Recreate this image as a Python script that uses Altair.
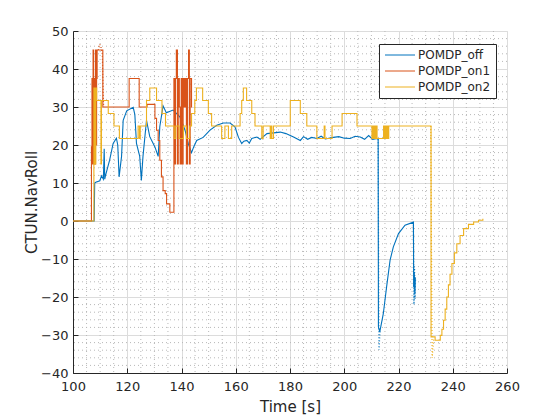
import altair as alt
import pandas as pd

# ---------------- data ----------------
series_names = ["POMDP_off", "POMDP_on1", "POMDP_on2"]
series_colors = ["#0072BD", "#D95319", "#EDB120"]

t_off = [100, 107.8, 108.0, 108.4, 109.9, 110.5, 111.2, 111.5, 111.7, 112.0, 113.5, 114.8,
         116.0, 116.5, 117.0, 117.9, 118.5, 119.8, 122.2, 122.8, 123.4, 124.6, 125.2, 125.8,
         127.1, 128.3, 130.2, 131.4, 132.0, 133.2, 134.4, 136.9, 139.4, 141.3, 142.5, 143.7,
         144.5, 145.6, 148.0, 150.5, 153.0, 155.4, 157.9, 159.7, 161.0, 162.2, 163.0, 164.1,
         165.0, 165.9, 167.8, 169.0, 171.5, 174.0, 176.4, 178.5, 181.3, 183.8, 185.0, 186.5,
         188.0, 189.9, 191.5, 193.0, 196.0, 198.0, 200.0, 202.2, 204.0, 205.9, 207.5, 209.0,
         210.5, 212.1, 212.5, 212.6, 213.1, 214.4, 215.6, 216.9, 218.1, 220.0, 222.4, 225.5,
         225.6, 225.8, 226.0, 226.2]
v_off = [0, 0, 10, 10.2, 10.6, 11.9, 11, 19, 11, 12, 16, 20.4,
         21.8, 20, 11.6, 17, 26.5, 29, 29.9, 28, 20.4, 17, 10.7, 17,
         26.5, 22.2, 19.5, 17, 24.8, 30.3, 28.5, 29.2, 27.4, 23.9, 20.4, 18.0,
         19.5, 21.2, 22, 23.9, 25.2, 25.8, 25.8, 24.8, 22, 20.4, 21, 21.2,
         20.5, 21.7, 22.1, 21.5, 23, 23.2, 23.4, 23, 22.1, 21.2, 22.2, 21.5,
         22, 21.7, 22.3, 21.6, 22, 22.2, 21.8, 21.7, 22.3, 22.1, 21.5, 22.5,
         21.5, 21.7, 21.5, -27.9, -29.2, -24.4, -17.4, -10.3, -6.8, -3.3, -1.1, -0.3,
         -17.4, -13.5, -19, -14.8]

t_on1 = [100, 106.8, 107.0, 107.2, 107.4, 107.6, 107.9, 108.1, 108.3, 108.5, 108.7, 108.9,
         111.0, 120.7, 124.4, 127.3, 130.2, 130.8, 131.4, 132.0, 132.6, 133.2, 134.0, 134.5,
         135.7, 136.9, 137.2, 137.5, 137.8, 138.1, 138.5, 138.8, 139.2, 139.5, 139.9, 140.3,
         140.6, 141.0, 141.4, 141.8, 142.2, 142.6, 142.9, 143.2, 143.7, 143.9]
v_on1 = [0, 19.5, 37.5, 15, 45, 15, 37.5, 15, 45, 20, 37.5, 45,
         30, 37.5, 30, 30.7, 27, 23.9, 21.2, 16, 11.6, 8, 7.2, 4.5,
         2.3, 2.3, 37.5, 15, 37.5, 45, 15, 37.5, 30, 15, 37.5, 15,
         37.5, 30, 37.5, 15, 37.5, 45, 15, 37.5, 30, 30]

t_on2 = [100, 107.7, 108.1, 108.4, 108.7, 110.3, 110.5, 113.0, 115.1, 117.1, 124.0, 124.5,
         124.8, 127.1, 128.3, 130.8, 132.8, 134.1, 137.3, 137.9, 139.1, 140.7, 141.8, 143.0,
         143.7, 144.9, 145.5, 147.8, 149.9, 151.1, 154.8, 156.0, 157.3, 158.5, 161.6, 162.2,
         162.8, 164.0, 165.9, 167.1, 169.6, 170.1, 172.7, 173.0, 173.3, 173.9, 180.1, 183.8,
         186.2, 189.9, 192.6, 192.9, 195.5, 199.2, 204.7, 210.2, 210.5, 210.8, 211.1, 211.4,
         211.7, 212.1, 214.5, 214.8, 215.1, 215.4, 215.7, 216.0, 216.4, 232.0, 233.5, 235.4,
         236.0, 236.6, 237.2, 237.8, 238.4, 239.0, 239.7, 240.6, 241.5, 242.7, 244.0, 245.8,
         247.7, 249.5, 251.1]
v_on2 = [0, 35, 15, 35, 31.7, 15, 31.7, 28.3, 25, 21.7, 25, 21.7,
         25, 31.7, 35, 31.7, 28.3, 25, 21.7, 25, 21.7, 25, 21.7, 25,
         28.3, 31.7, 35, 31.7, 28.3, 25, 21.7, 25, 21.7, 25, 28.3, 31.7,
         35, 31.7, 28.3, 25, 21.7, 25, 21.7, 25, 21.7, 25, 31.7, 28.3,
         25, 21.7, 25, 21.7, 25, 28.3, 25, 21.7, 25, 21.7, 25, 21.7,
         25, 21.7, 25, 21.7, 25, 21.7, 25, 21.7, 25, -30.5, -31.4, -30.1,
         -28.5, -26.1, -23.2, -20, -16.8, -14, -11.2, -8.4, -6, -3.8, -2, -0.9,
         -0.25, 0.2, 0.6]

# dotted companion traces (visible excursions only)
dot_off_t = [212.5, 212.8, 213.2, 225.5, 225.7, 225.9, 226.1, 226.3]
dot_off_v = [21.5, -33.9, -29, -0.3, -22, -12, -20.5, -15]
dot_off_seg = [0, 0, 0, 1, 1, 1, 1, 1]
dot_on1_t = [109.3, 109.8, 110.3, 110.8, 111.3]
dot_on1_v = [45, 46.5, 46, 44, 30]
dot_on2_t = [231.9, 232.4, 233.0]
dot_on2_v = [25, -36, -31]

x_major = [100, 120, 140, 160, 180, 200, 220, 240, 260]
y_major = [-40, -30, -20, -10, 0, 10, 20, 30, 40, 50]
x_minor = [x for x in range(100, 261, 5) if x % 20 != 0]
y_minor = [y for y in range(-40, 51, 2) if y % 10 != 0]

# ---------------- chart ----------------
W, H = 434, 342
FONT = "DejaVu Sans"
INK = "#262626"

xs = alt.Scale(domain=[100, 260], nice=False, zero=False)
ys = alt.Scale(domain=[-40, 50], nice=False, zero=False)
cs = alt.Scale(domain=series_names, range=series_colors)

def frame(t, v, name):
    return pd.DataFrame({"t": t, "v": v, "series": name, "i": list(range(len(t)))})

df_off = frame(t_off, v_off, series_names[0])
df_on1 = frame(t_on1, v_on1, series_names[1])
df_on2 = frame(t_on2, v_on2, series_names[2])

legend = alt.Legend(
    title=None, orient="none", legendX=306, legendY=13,
    strokeColor=INK, fillColor="white", padding=5, cornerRadius=0,
    labelFont=FONT, labelFontSize=12, labelColor=INK,
    symbolType="M-3,0H3", symbolSize=100, symbolStrokeWidth=1,
    symbolOffset=10, labelOffset=12, rowPadding=4,
)

main_x = alt.Axis(values=x_major, grid=True, gridColor="#dcdcdc", ticks=False,
                  domainColor=INK, labelColor=INK, labelFont=FONT, labelFontSize=13,
                  labelPadding=7, labelFlush=False, labelOverlap=False,
                  title="Time [s]", titleFont=FONT, titleFontSize=15,
                  titleFontWeight="normal", titleColor=INK, titlePadding=6, orient="bottom")
main_y = alt.Axis(values=y_major, grid=True, gridColor="#dcdcdc", ticks=False,
                  domainColor=INK, labelColor=INK, labelFont=FONT, labelFontSize=13,
                  labelPadding=5, labelFlush=False, labelOverlap=False,
                  title="CTUN.NavRoll", titleFont=FONT, titleFontSize=15,
                  titleFontWeight="normal", titleColor=INK, titlePadding=1, orient="left")

vgrid = alt.Chart(pd.DataFrame({"x": x_minor})).mark_rule(
    color="#b8b8b8", strokeDash=[1, 3], strokeWidth=1
).encode(
    x=alt.X("x:Q", scale=xs, axis=alt.Axis(orient="top", offset=-H, values=x_major,
            labels=False, domain=False, grid=False, ticks=True, tickSize=5,
            tickColor=INK, title=None))
)
hgrid = alt.Chart(pd.DataFrame({"y": y_minor})).mark_rule(
    color="#b8b8b8", strokeDash=[1, 3], strokeWidth=1
).encode(
    y=alt.Y("y:Q", scale=ys, axis=alt.Axis(orient="right", offset=-W, values=y_major,
            labels=False, domain=False, grid=False, ticks=True, tickSize=5,
            tickColor=INK, title=None))
)

def dotted(t, v, seg, color):
    d = pd.DataFrame({"t": t, "v": v, "seg": seg, "i": list(range(len(t)))})
    return alt.Chart(d).mark_line(strokeDash=[1, 2], strokeWidth=1.2, color=color, clip=True).encode(
        x=alt.X("t:Q", scale=xs, axis=None),
        y=alt.Y("v:Q", scale=ys, axis=None),
        detail="seg:N", order="i:Q")

d_off = dotted(dot_off_t, dot_off_v, dot_off_seg, series_colors[0])
d_on1 = dotted(dot_on1_t, dot_on1_v, [0] * len(dot_on1_t), series_colors[1])
d_on2 = dotted(dot_on2_t, dot_on2_v, [0] * len(dot_on2_t), series_colors[2])

def line(df, interp, xaxis, yaxis):
    return alt.Chart(df).mark_line(interpolate=interp, strokeWidth=1.1, clip=True).encode(
        x=alt.X("t:Q", scale=xs, axis=xaxis),
        y=alt.Y("v:Q", scale=ys, axis=yaxis),
        color=alt.Color("series:N", scale=cs, legend=legend),
        order="i:Q")

l_off = line(df_off, "linear", main_x, main_y)
l_on1 = line(df_on1, "step-after", None, None)
l_on2 = line(df_on2, "step-after", None, None)

chart = alt.layer(vgrid, hgrid, d_off, d_on1, d_on2, l_off, l_on1, l_on2).resolve_axis(
    x="independent", y="independent"
).properties(
    width=W, height=H,
    autosize=alt.AutoSizeParams(type="none"),
    padding={"left": 65, "top": 23, "right": 40, "bottom": 45},
).configure_view(stroke=None).configure(background="white")

chart.save("out.html", embed_options={"renderer": "svg", "actions": False})
